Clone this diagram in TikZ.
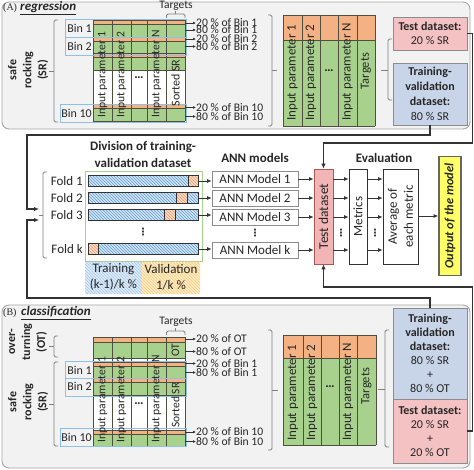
\documentclass[tikz,border=0pt]{standalone}
\usepackage{fontspec}
\setmainfont{Carlito}
\newfontfamily\serifA{Liberation Serif}
\newfontfamily\djv{DejaVu Sans}
\usetikzlibrary{arrows.meta,patterns}
\definecolor{orC}{HTML}{F4B183}
\definecolor{grC}{HTML}{A9D18E}
\definecolor{cellB}{HTML}{4F4F3F}
\definecolor{binB}{HTML}{8FC0E8}
\definecolor{panelF}{HTML}{F2F2F2}
\definecolor{panelB}{HTML}{A6A6A6}
\definecolor{boxB}{HTML}{8C8C8C}
\definecolor{testF}{HTML}{F4C2C2}
\definecolor{trainF}{HTML}{C8D5E8}
\definecolor{lineC}{HTML}{333333}
\definecolor{txtC}{HTML}{262626}
\definecolor{hbF}{HTML}{D6E6F5}
\definecolor{hbL}{HTML}{5B9BD5}
\definecolor{hoF}{HTML}{FBDCC8}
\definecolor{hoL}{HTML}{E59A6A}
\definecolor{lgbF}{HTML}{DDEBF7}
\definecolor{lgbL}{HTML}{A8C8EA}
\definecolor{lgoF}{HTML}{FFEBC4}
\definecolor{lgoL}{HTML}{F5CC80}
\definecolor{outF}{HTML}{FFFF66}
\definecolor{outB}{HTML}{666666}
\definecolor{brC}{HTML}{808080}
\definecolor{fgreen}{HTML}{A9D18E}
\definecolor{tnF}{HTML}{F2B5B5}
\definecolor{tnB}{HTML}{B05555}
\tikzset{
  panel/.style={draw=panelB, fill=panelF, line width=0.9pt, rounded corners=7pt},
  conn/.style={draw=lineC, line width=1.5pt},
  cArr/.style={conn, -{Latex[length=5pt,width=4.5pt]}},
  arr/.style={draw=lineC, line width=0.8pt, -{Latex[length=4.5pt,width=4pt]}},
  sarr/.style={draw=lineC, line width=0.6pt, -{Latex[length=3pt,width=3pt]}},
  brk/.style={draw=brC, line width=0.8pt, rounded corners=1.5pt},
  cellline/.style={draw=cellB, line width=0.6pt},
  binbox/.style={draw=binB, line width=0.9pt},
  pct/.style={anchor=west, font=\fontsize{11.6}{11}\selectfont},
  bintxt/.style={anchor=east, font=\fontsize{12}{12}\selectfont},
  rsm/.style={rotate=90, anchor=west, font=\fontsize{11.6}{11}\selectfont},
  rbig/.style={rotate=90, anchor=west, font=\fontsize{13}{13}\selectfont},
  side/.style={rotate=90, align=center, font=\bfseries\fontsize{12}{15}\selectfont},
  ttl/.style={anchor=west, font=\bfseries\itshape\fontsize{13}{13}\selectfont},
  head/.style={font=\bfseries\fontsize{13}{17}\selectfont, align=center},
  dsbox/.style={draw=boxB, line width=0.8pt, minimum width=74, align=center, font=\fontsize{12}{14}\selectfont},
  foldbar/.style={draw=lineC, line width=0.6pt, minimum width=110, minimum height=11, pattern=north west lines, pattern color=hbL, preaction={fill=hbF}},
  valseg/.style={draw=lineC, line width=0.6pt, pattern=north west lines, pattern color=hoL, preaction={fill=hoF}},
  annbox/.style={draw=boxB, fill=white, line width=0.8pt, minimum width=86, minimum height=16, font=\fontsize{13}{13}\selectfont},
  vbox/.style={draw=lineC, fill=white, line width=0.7pt, minimum height=95},
  midt/.style={font=\fontsize{13}{13}\selectfont},
  vdt/.style={font=\djv\bfseries\fontsize{10}{10}\selectfont},
}
\begin{document}
\begin{tikzpicture}[x=1pt,y=-1pt,every node/.style={text=txtC, inner sep=0pt}]
\useasboundingbox (0,0) rectangle (474,470);

% ================= Panel A =================
\draw[panel] (2,2) rectangle (470,129);
\node[anchor=west, font=\serifA\fontsize{10}{10}\selectfont] (labA) at (3,8) {(A)};
\node[ttl] (titA) at (20,8) {\underline{regression}};
\node[side] (srA) at (28,70) {safe\\rocking\\(SR)};
\draw[brk] (58,20) -- (54,20) -- (54,122) -- (58,122);
\draw[brk] (54,71) -- (49,71);

% left table A
\fill[orC] (93,20) rectangle (185,24);
\fill[grC] (93,24) rectangle (185,37);
\fill[orC] (93,37) rectangle (185,41);
\fill[grC] (93,41) rectangle (185,53);
\fill[orC] (93,53) rectangle (185,57);
\fill[grC] (93,57) rectangle (185,70);
\fill[white] (93,70) rectangle (185,104);
\fill[orC] (93,104) rectangle (185,108);
\fill[grC] (93,108) rectangle (185,121);
\foreach \y in {20,24,37,41,53,57,70,104,108,121} \draw[cellline] (93,\y) -- (185,\y);
\foreach \x in {93,112,131,147,166,185} \draw[cellline] (\x,20) -- (\x,121);
\draw[binbox] (65,19) rectangle (186,37);
\draw[binbox] (65,37) rectangle (186,55);
\draw[binbox] (60,104) rectangle (186,122);
\node[bintxt] (bA1) at (92,28) {Bin 1};
\node[bintxt] (bA2) at (92,46) {Bin 2};
\node[bintxt] (bA10) at (92,113) {Bin 10};
\node[rsm] (ipA1) at (102.5,118) {Input parameter 1};
\node[rsm] (ipA2) at (121.5,118) {Input parameter 2};
\node[font=\bfseries\fontsize{13}{13}\selectfont] (dotA) at (139,78) {…};
\node[rsm] (ipAN) at (156.5,118) {Input parameter N};
\node[rotate=90, font=\fontsize{12}{12}\selectfont] (sortA) at (175.5,83) {Sorted SR};
\node[font=\fontsize{11.5}{11.5}\selectfont] (tgA) at (176,6) {Targets};
\draw[brk] (166.5,18) -- (166.5,14) -- (185,14) -- (185,18);
\draw[brk] (175.75,14) -- (175.75,11);

% percent labels A
\coordinate (eA1) at (185,23);
\coordinate (eA2) at (185,30);
\coordinate (eA3) at (185,39);
\coordinate (eA4) at (185,46.5);
\coordinate (eA5) at (185,107.5);
\coordinate (eA6) at (185,116.5);
\node[pct] (pA1) at (196,23) {20 \% of Bin 1};
\node[pct] (pA2) at (196,30) {80 \% of Bin 1};
\node[pct] (pA3) at (196,39) {20 \% of Bin 2};
\node[pct] (pA4) at (196,46.5) {80 \% of Bin 2};
\node[pct] (pA5) at (196,107.5) {20 \% of Bin 10};
\node[pct] (pA6) at (196,116.5) {80 \% of Bin 10};
\foreach \i in {1,...,6} \draw[sarr] (eA\i) -- (pA\i.west);
\draw[brk] (268,15) -- (272,15) -- (272,126) -- (268,126);
\draw[brk] (272,70) -- (277,70);

% middle table A
\fill[orC] (283,15) rectangle (375,40);
\fill[grC] (283,40) rectangle (375,126);
\foreach \x in {283,302,320,338,357,375} \draw[cellline] (\x,15) -- (\x,126);
\foreach \y in {15,40,126} \draw[cellline] (283,\y) -- (375,\y);
\node[rbig] (mA1) at (292.5,121) {Input parameter 1};
\node[rbig] (mA2) at (311,121) {Input parameter 2};
\node[font=\bfseries\fontsize{13}{13}\selectfont] (mAd) at (329,71) {…};
\node[rbig] (mAN) at (347.5,121) {Input parameter N};
\node[rotate=90, font=\fontsize{12.5}{12.5}\selectfont] (mAT) at (366,71) {Targets};
\draw[brk] (392,39) -- (388,39) -- (388,100) -- (392,100);
\draw[brk] (388,70) -- (381,70);
\node[dsbox, fill=testF, minimum height=33] (testA) at (430,33.5) {\textbf{Test dataset:}\\20 \% SR};
\node[dsbox, fill=trainF, minimum height=62, font=\fontsize{12}{15}\selectfont] (trainA) at (430,94) {\textbf{Training-}\\\textbf{validation}\\\textbf{dataset:}\\80 \% SR};

% ================= Panel B =================
\draw[panel] (2,305) rectangle (470,468);
\node[anchor=west, font=\serifA\fontsize{10}{10}\selectfont] (labB) at (3,313) {(B)};
\node[ttl] (titB) at (21,313) {\underline{classification}};
\node[side] (otB) at (28,342) {over-\\turning\\(OT)};
\node[side] (srB) at (28,402) {safe\\rocking\\(SR)};
\draw[brk] (58,336) -- (54,336) -- (54,357) -- (58,357);
\draw[brk] (54,346.5) -- (49,346.5);
\draw[brk] (58,362) -- (54,362) -- (54,446) -- (58,446);
\draw[brk] (54,404) -- (49,404);

% left table B
\fill[orC] (93,337) rectangle (185,342);
\fill[grC] (93,342) rectangle (185,358);
\fill[white] (93,358) rectangle (185,362);
\fill[orC] (93,362) rectangle (185,366.5);
\fill[grC] (93,366.5) rectangle (185,378);
\fill[orC] (93,378) rectangle (185,382.5);
\fill[grC] (93,382.5) rectangle (185,395);
\fill[white] (93,395) rectangle (185,430);
\fill[orC] (93,430) rectangle (185,434.5);
\fill[grC] (93,434.5) rectangle (185,446);
\foreach \y in {337,342,358,362,366.5,378,382.5,395,430,434.5,446} \draw[cellline] (93,\y) -- (185,\y);
\foreach \x in {93,112,131,147,166,185} \draw[cellline] (\x,337) -- (\x,446);
\draw[binbox] (65,361) rectangle (186,378);
\draw[binbox] (65,378) rectangle (186,396);
\draw[binbox] (60,428) rectangle (186,446);
\node[bintxt] (bB1) at (92,370) {Bin 1};
\node[bintxt] (bB2) at (92,386.5) {Bin 2};
\node[bintxt] (bB10) at (92,437.5) {Bin 10};
\node[rsm] (ipB1) at (102.5,443) {Input parameter 1};
\node[rsm] (ipB2) at (121.5,443) {Input parameter 2};
\node[font=\bfseries\fontsize{13}{13}\selectfont] (dotB) at (139,404) {…};
\node[rsm] (ipBN) at (156.5,443) {Input parameter N};
\node[rotate=90, font=\fontsize{11.5}{11.5}\selectfont] (otT) at (175.5,350) {OT};
\node[rotate=90, font=\fontsize{11.5}{11.5}\selectfont] (sortB) at (175.5,405) {Sorted SR};
\node[font=\fontsize{11.5}{11.5}\selectfont] (tgB) at (176,322) {Targets};
\draw[brk] (166.5,335) -- (166.5,331) -- (185,331) -- (185,335);
\draw[brk] (175.75,331) -- (175.75,328);

\coordinate (eB1) at (185,339);
\coordinate (eB2) at (185,351.5);
\coordinate (eB3) at (185,363.5);
\coordinate (eB4) at (185,372.5);
\coordinate (eB5) at (185,432);
\coordinate (eB6) at (185,441.5);
\node[pct] (pB1) at (196,339) {20 \% of OT};
\node[pct] (pB2) at (196,351.5) {80 \% of OT};
\node[pct] (pB3) at (196,363.5) {20 \% of Bin 1};
\node[pct] (pB4) at (196,372.5) {80 \% of Bin 1};
\node[pct] (pB5) at (196,432) {20 \% of Bin 10};
\node[pct] (pB6) at (196,441.5) {80 \% of Bin 10};
\foreach \i in {1,...,6} \draw[sarr] (eB\i) -- (pB\i.west);
\draw[brk] (268,330) -- (272,330) -- (272,450) -- (268,450);
\draw[brk] (272,390) -- (278,390);

% middle table B
\fill[orC] (283,335) rectangle (376,358);
\fill[grC] (283,358) rectangle (376,445);
\foreach \x in {283,303,321,339,357,376} \draw[cellline] (\x,335) -- (\x,445);
\foreach \y in {335,358,445} \draw[cellline] (283,\y) -- (376,\y);
\node[rbig] (mB1) at (293,441) {Input parameter 1};
\node[rbig] (mB2) at (312,441) {Input parameter 2};
\node[font=\bfseries\fontsize{13}{13}\selectfont] (mBd) at (330,387) {…};
\node[rbig] (mBN) at (348,441) {Input parameter N};
\node[rotate=90, font=\fontsize{12.5}{12.5}\selectfont] (mBT) at (366.5,386) {Targets};
\draw[brk] (389,330) -- (385,330) -- (385,447) -- (389,447);
\draw[brk] (385,389) -- (378,389);
\node[dsbox, fill=trainF, minimum height=91] (trainB) at (430,353.5) {\textbf{Training-}\\\textbf{validation}\\\textbf{dataset:}\\80 \% SR\\+\\80 \% OT};
\node[dsbox, fill=testF, minimum height=64] (testB) at (430,431) {\textbf{Test dataset:}\\20 \% SR\\+\\20 \% OT};

% ================= Middle =================
\node[head] (divT) at (143,154) {Division of training-\\validation dataset};
\node[head] (annT) at (255,158) {ANN models};
\node[head] (evT) at (384,158) {Evaluation};
\draw[brk] (47,172) -- (43,172) -- (43,258) -- (47,258);
\draw[brk] (43,215) -- (39,215);
\coordinate (inTop) at (39,209);
\coordinate (inBot) at (39,220);
\draw[draw=fgreen, line width=1pt] (85,172) rectangle (202,262);
\node[foldbar] (f1) at (143,181) {};
\node[foldbar] (f2) at (143,198) {};
\node[foldbar] (f3) at (143,215) {};
\node[foldbar] (fk) at (143,249) {};
\path[valseg] (188,175.5) rectangle (198,186.5);
\path[valseg] (176,192.5) rectangle (187,203.5);
\path[valseg] (164,209.5) rectangle (175,220.5);
\path[valseg] (88,243.5) rectangle (98,254.5);
\node[midt, anchor=east] (fl1) at (83,181) {Fold 1};
\node[midt, anchor=east] (fl2) at (83,198) {Fold 2};
\node[midt, anchor=east] (fl3) at (83,215) {Fold 3};
\node[midt, anchor=east] (flk) at (83,249) {Fold k};
\node[vdt] (fdots) at (143,232) {⋮};
\fill[pattern=north west lines, pattern color=lgbL, preaction={fill=lgbF}] (85,262) rectangle (142,294);
\fill[pattern=north west lines, pattern color=lgoL, preaction={fill=lgoF}] (142,262) rectangle (200,294);
\node[midt] (tr1) at (113.5,269) {Training};
\node[midt] (tr2) at (113.5,285) {(k-1)/k \%};
\node[midt] (va1) at (171,269) {Validation};
\node[midt] (va2) at (171,285) {1/k \%};

\node[annbox] (ann1) at (255,179) {ANN Model 1};
\node[annbox] (ann2) at (255,198) {ANN Model 2};
\node[annbox] (ann3) at (255,217) {ANN Model 3};
\node[annbox] (annk) at (255,250) {ANN Model k};
\node[vdt] (adots) at (255,233.5) {⋮};
\foreach \n/\a in {f1/ann1,f2/ann2,f3/ann3,fk/annk} \draw[arr] (\n.east) -- (\n.east -| \a.west);

\node[vbox, fill=tnF, draw=tnB, minimum width=19] (testN) at (323.5,216.5) {};
\node[rotate=90, font=\fontsize{13.5}{13.5}\selectfont] (testNt) at (testN) {Test dataset};
\node[vbox, minimum width=18] (metN) at (358,216.5) {};
\node[rotate=90, midt] (metNt) at (metN) {Metrics};
\node[vbox, minimum width=35] (avgN) at (400.5,216.5) {};
\node[rotate=90, align=center, font=\fontsize{13}{16}\selectfont] (avgNt) at (avgN) {Average of\\each metric};
\node[draw=outB, fill=outF, line width=1.8pt, minimum width=22, minimum height=119] (outN) at (450,216) {};
\node[rotate=90, font=\bfseries\itshape\fontsize{12.5}{12.5}\selectfont] (outNt) at (outN) {Output of the model};
\foreach \a in {ann1,ann2,ann3,annk} {
  \draw[arr] (\a.east) -- (\a.east -| testN.west);
  \draw[arr] (testN.east |- \a.east) -- (metN.west |- \a.east);
  \draw[arr] (metN.east |- \a.east) -- (avgN.west |- \a.east);
}
\node[vdt] (tdots) at (341,233.5) {⋮};
\node[vdt] (mdots) at (375,233.5) {⋮};
\draw[arr] (avgN.east |- outN.west) -- (outN.west);

% ================= Connectors =================
\draw[cArr] (testA.east) -| (472.5,143) -| (testN.north);
\draw[cArr] (trainA.south) |- (27,135) |- (inTop);
\draw[cArr] (trainB.north) |- (27,298) |- (inBot);
\draw[cArr] (testB.east) -| (472.5,287) -| (testN.south);
\end{tikzpicture}
\end{document}
